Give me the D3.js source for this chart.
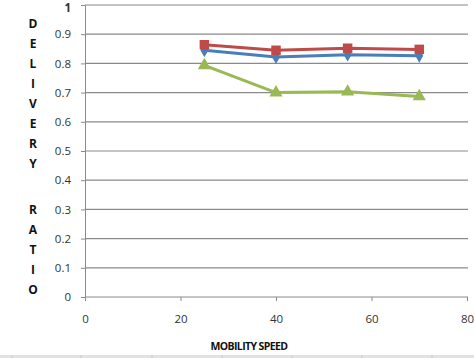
<!DOCTYPE html>
<html><head><meta charset="utf-8">
<script src="https://cdn.jsdelivr.net/npm/d3@7/dist/d3.min.js"></script>
<style>body{margin:0;background:#fff;}svg{display:block;}</style>
</head><body>
<svg id="c" width="474" height="358"></svg>
<script>
const speeds = [25, 40, 55, 70];
const seriesBlue = [0.845, 0.822, 0.830, 0.826];
const seriesRed = [0.864, 0.845, 0.852, 0.848];
const seriesGreen = [0.793, 0.700, 0.703, 0.687];
const xTicks = [0, 20, 40, 60, 80];
const yTicks = [0, 0.1, 0.2, 0.3, 0.4, 0.5, 0.6, 0.7, 0.8, 0.9, 1];
const xTitle = "MOBILITY SPEED";
const yTitle = "DELIVERY RATIO";

const svg = d3.select("#c");
const x = d3.scaleLinear().domain([0, 80]).range([85, 467]);
const y = d3.scaleLinear().domain([0, 1]).range([297, 5]);
const font = "'Open Sans', 'Liberation Sans', sans-serif";

// gridlines
svg.append("g").selectAll("line").data(yTicks.filter(d => d > 0)).join("line")
  .attr("x1", 85).attr("x2", 468).attr("y1", d => y(d)).attr("y2", d => y(d))
  .attr("stroke", "#8a8a8a").attr("stroke-width", 1.2);

// y axis
const ya = svg.append("g").attr("transform", "translate(85,0)")
  .call(d3.axisLeft(y).tickValues(yTicks).tickSize(4).tickPadding(10)
    .tickFormat(d => d === 0 ? "0" : d === 1 ? "1" : d3.format(".1f")(d)));
ya.select(".domain").attr("stroke", "#8a8a8a");
ya.selectAll(".tick line").attr("stroke", "#8a8a8a");
ya.selectAll("text").attr("font-family", font).attr("font-size", 11.5).attr("fill", "#333");
ya.selectAll(".tick").filter(d => d === 1).select("text").attr("dy", "0.6em").attr("font-weight", "bold");

// x axis
const xa = svg.append("g").attr("transform", "translate(0,297)")
  .call(d3.axisBottom(x).tickValues(xTicks).tickSize(4).tickPadding(14));
xa.select(".domain").attr("stroke", "#8a8a8a").attr("d", "M85,0H468");
xa.selectAll(".tick line").attr("stroke", "#8a8a8a");
xa.selectAll("text").attr("font-family", font).attr("font-size", 11.5).attr("fill", "#333");

// titles
svg.append("text").attr("x", 249).attr("y", 350).attr("text-anchor", "middle")
  .attr("font-family", font).attr("font-size", 10.5).attr("font-weight", "bold")
  .attr("letter-spacing", -0.6).attr("fill", "#111").text(xTitle);

const words = yTitle.split(" ");
const yPos = [[23, 20.1], [209, 20]];
words.forEach((w, wi) => {
  w.split("").forEach((ch, i) => {
    svg.append("text").attr("x", 33).attr("y", yPos[wi][0] + i * yPos[wi][1] + 4.5)
      .attr("text-anchor", "middle").attr("font-family", font).attr("font-size", 12)
      .attr("font-weight", "bold").attr("fill", "#111").text(ch);
  });
});

// series
const line = d3.line().x(d => x(d[0])).y(d => y(d[1]));
const series = [
  {vals: seriesGreen, color: "#98B954", shape: d3.symbolTriangle, size: 75},
  {vals: seriesBlue, color: "#4A7EBB", shape: d3.symbolDiamond, size: 55},
  {vals: seriesRed, color: "#BE4B48", shape: d3.symbolSquare, size: 90}
];
series.forEach(s => {
  const pts = speeds.map((v, i) => [v, s.vals[i]]);
  svg.append("path").attr("d", line(pts)).attr("fill", "none")
    .attr("stroke", s.color).attr("stroke-width", 3).attr("stroke-linejoin", "round");
  svg.append("g").selectAll("path").data(pts).join("path")
    .attr("transform", d => `translate(${x(d[0])},${y(d[1])})`)
    .attr("d", d3.symbol().type(s.shape).size(s.size))
    .attr("fill", s.color);
});

// spreadsheet strip at bottom
svg.append("rect").attr("x", 0).attr("y", 355).attr("width", 474).attr("height", 3).attr("fill", "#e2e2e2");
svg.append("g").selectAll("line").data([12, 81, 152, 222, 292, 362, 432]).join("line")
  .attr("x1", d => d).attr("x2", d => d).attr("y1", 355).attr("y2", 358)
  .attr("stroke", "#c8c8c8");
</script>
</body></html>
